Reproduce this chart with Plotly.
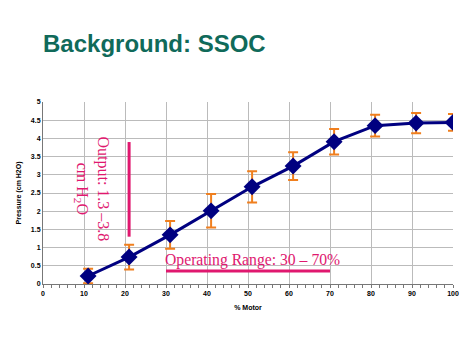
import plotly.graph_objects as go

motor = [11, 21, 31, 41, 51, 61, 71, 81, 91, 100]
pressure = [0.22, 0.74, 1.35, 2.01, 2.67, 3.24, 3.91, 4.35, 4.42, 4.44]
err = [0.2, 0.34, 0.38, 0.46, 0.43, 0.38, 0.35, 0.3, 0.28, 0.23]
x_ticks = list(range(0, 101, 10))
y_ticks = [0, 0.5, 1, 1.5, 2, 2.5, 3, 3.5, 4, 4.5, 5]
output_range = [1.3, 3.9]
output_x = 21
op_range = [30, 70]
op_y = 0.36

pink = "#E0186F"
fig = go.Figure()
fig.add_trace(go.Scatter(
    x=motor, y=pressure, mode="lines+markers",
    line=dict(color="#000080", width=3),
    marker=dict(symbol="diamond", size=13, color="#000080"),
    error_y=dict(type="data", array=err, color="#F07F1E", thickness=2, width=5),
    showlegend=False))
fig.add_trace(go.Scatter(x=[output_x, output_x], y=output_range, mode="lines",
                         line=dict(color=pink, width=3), showlegend=False, hoverinfo="skip"))
fig.add_trace(go.Scatter(x=op_range, y=[op_y, op_y], mode="lines",
                         line=dict(color=pink, width=3), showlegend=False, hoverinfo="skip"))

fig.add_annotation(x=29.2, y=0.36, xref="x", yref="y", xanchor="left", yanchor="bottom",
                   text="Operating Range: 30 – 70%", showarrow=False, yshift=0,
                   font=dict(family="Liberation Serif", size=15.7, color=pink))
fig.add_annotation(x=12.0, y=2.62, xref="x", yref="y", xanchor="center", yanchor="middle",
                   text="Output: 1.3 –3.8<br>cm H<sub>2</sub>O", showarrow=False, textangle=90,
                   font=dict(family="Liberation Serif", size=16, color=pink))

fig.add_annotation(x=-0.005, y=1.324, xref="paper", yref="paper", text="<b>Background: SSOC</b>",
                   showarrow=False, xanchor="left", yanchor="middle",
                   font=dict(family="Liberation Sans", size=24, color="#106A5A"))

# page body has an 8px margin; shrink figure so plot area lands where the reference has it
fig.update_layout(
    width=466, height=347, margin=dict(l=35, r=21, t=94, b=71),
    paper_bgcolor="white", plot_bgcolor="white",
    font=dict(family="Liberation Sans", size=8, color="black"),
    xaxis=dict(range=[0, 100], tickvals=x_ticks, showgrid=True, gridcolor="#BBBBBB", gridwidth=1,
               showline=True, linecolor="#777777", linewidth=1, ticks="outside", ticklen=3,
               tickcolor="#777777", zeroline=False, automargin=False,
               minor=dict(dtick=2, ticks="outside", ticklen=3, tickcolor="#777777", showgrid=False),
               title=dict(text="<b>% Motor</b>", font=dict(size=7), standoff=8),
               tickfont=dict(size=7, weight="bold")),
    yaxis=dict(range=[0, 5], tickvals=y_ticks, showgrid=True, gridcolor="#BBBBBB", gridwidth=1,
               showline=True, linecolor="#777777", linewidth=1, zeroline=False, ticks="",
               automargin=False,
               title=dict(text="<b>Pressure (cm H2O)</b>", font=dict(size=7), standoff=8),
               tickfont=dict(size=7, weight="bold")),
)
fig.write_html("out.html")
